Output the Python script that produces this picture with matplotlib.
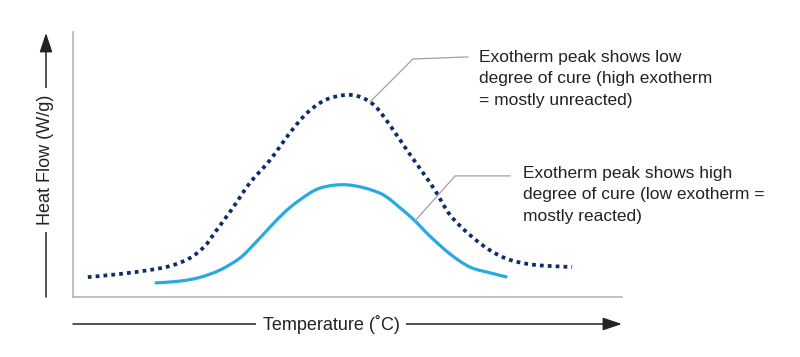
import numpy as np
import matplotlib.pyplot as plt
from matplotlib.path import Path
from matplotlib.patches import PathPatch

# Uncured sample (dotted) - temperature vs heat flow, arbitrary units 0-100
temp_uncured = [2.7, 8.6, 14.0, 17.7, 21.3, 24.0, 25.9, 29.1, 32.2, 35.9, 39.5, 42.6,
                45.9, 49.5, 52.3, 55.0, 57.7, 60.8, 63.4, 65.9, 68.7, 72.3, 75.9,
                79.6, 84.2, 90.9]
heat_uncured = [7.5, 8.7, 10.2, 11.7, 14.7, 19.2, 24.5, 33.6, 43.0, 51.7, 61.9, 69.4,
                74.3, 76.2, 75.5, 72.1, 64.9, 55.5, 47.9, 40.4, 30.9, 23.4, 17.7,
                14.0, 12.1, 11.3]

# Mostly cured sample (solid)
temp_cured = [14.9, 19.5, 23.1, 26.8, 30.4, 33.2, 35.9, 38.6, 41.3, 45.0, 50.1, 55.9,
              59.6, 62.3, 65.0, 68.7, 72.3, 76.0, 79.1]
heat_cured = [5.3, 6.0, 7.4, 10.2, 14.7, 20.4, 26.4, 32.1, 36.6, 41.1, 42.3, 39.2,
              33.6, 28.7, 23.0, 16.2, 11.3, 9.1, 7.5]

note_uncured = "Exotherm peak shows low\ndegree of cure (high exotherm\n= mostly unreacted)"
note_cured = "Exotherm peak shows high\ndegree of cure (low exotherm =\nmostly reacted)"

plt.rcParams['font.family'] = ['Liberation Sans', 'DejaVu Sans']


def smooth_path(xs, ys):
    # bezier path through the read points (catmull-rom style handles)
    p = np.column_stack([xs, ys])
    n = len(p)
    verts = [p[0]]
    codes = [Path.MOVETO]
    for i in range(n - 1):
        p0 = p[i - 1] if i > 0 else p[i]
        p3 = p[i + 2] if i + 2 < n else p[i + 1]
        c1 = p[i] + (p[i + 1] - p0) / 6
        c2 = p[i + 1] - (p3 - p[i]) / 6
        verts += [c1, c2, p[i + 1]]
        codes += [Path.CURVE4] * 3
    return Path(verts, codes)


fig = plt.figure(figsize=(8, 3.57), dpi=100)
ax = fig.add_axes([73 / 800, 1 - 297 / 357, 549 / 800, 265 / 357])

ax.add_patch(PathPatch(smooth_path(temp_uncured, heat_uncured), fill=False,
                       edgecolor='#0b2d6b', lw=2.7, linestyle=(0, (1, 1.1)),
                       capstyle='butt'))
ax.add_patch(PathPatch(smooth_path(temp_cured, heat_cured), fill=False,
                       edgecolor='#2aa9e0', lw=2.3, capstyle='butt'))

ax.set_xlim(0, 100)
ax.set_ylim(0, 100)
ax.set_xticks([])
ax.set_yticks([])
for s in ['top', 'right']:
    ax.spines[s].set_visible(False)
for s in ['left', 'bottom']:
    ax.spines[s].set_color('#b5b5b5')
    ax.spines[s].set_linewidth(1.2)

# leader lines + notes
ax.plot([54.1, 61.9, 71.9], [73.6, 89.8, 90.6], color='#a0a0a0', lw=0.9, clip_on=False)
ax.text(74.0, 82.3, note_uncured, fontsize=12.5, color='#222222', va='center',
        ha='left', linespacing=1.55)
ax.plot([62.3, 69.6, 79.6], [28.7, 45.7, 45.7], color='#a0a0a0', lw=0.9, clip_on=False)
ax.text(82.0, 38.5, note_cured, fontsize=12.5, color='#222222', va='center',
        ha='left', linespacing=1.55, clip_on=False)

# axis arrows
arrow = dict(arrowstyle='-|>,head_length=0.9,head_width=0.3', color='#222222',
             lw=1.1, mutation_scale=13, shrinkA=0, shrinkB=0)
ax.annotate('', xy=(46, 324), xytext=(46, 60), xycoords='figure pixels',
            textcoords='figure pixels', arrowprops=arrow, annotation_clip=False)
ax.annotate('', xy=(622, 33), xytext=(73, 33), xycoords='figure pixels',
            textcoords='figure pixels', arrowprops=arrow, annotation_clip=False)

box = dict(facecolor='white', edgecolor='none', pad=5)
fig.text(46 / 800, 1 - 160 / 357, 'Heat Flow (W/g)', rotation=90, fontsize=13,
         color='#222222', ha='center', va='center', bbox=box, zorder=5)
fig.text(331 / 800, 33 / 357, 'Temperature (˚C)', fontsize=13, color='#222222',
         ha='center', va='center', bbox=box, zorder=5)

fig.savefig('out.png', dpi=100)
